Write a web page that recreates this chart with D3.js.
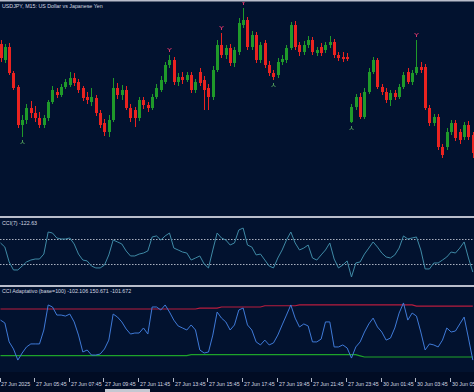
<!DOCTYPE html>
<html>
<head>
<meta charset="UTF-8">
<title>USDJPY M15</title>
<script src="https://cdnjs.cloudflare.com/ajax/libs/d3/7.8.5/d3.min.js"></script>
<style>
  html, body { margin: 0; padding: 0; background: #02122f; }
  svg { display: block; }
  text { font-family: "Liberation Sans", Arial, sans-serif; font-size: 5.3px; fill: #d4d8e2; }
</style>
</head>
<body>
<script>
// USDJPY M15 bars, 27 Jun 03:45 .. 30 Jun 07:00
var openP = [
  144.780,144.700,144.765,144.635,144.565,144.375,144.400,144.460,144.435,144.410,
  144.375,144.410,144.490,144.540,144.525,144.565,144.575,144.610,144.590,144.560,
  144.515,144.490,144.510,144.435,144.385,144.340,144.400,144.560,144.525,144.550,
  144.460,144.450,144.410,144.500,144.475,144.460,144.515,144.550,144.590,144.675,
  144.700,144.590,144.615,144.600,144.625,144.550,144.640,144.600,144.560,144.515,
  144.650,144.775,144.725,144.760,144.685,144.740,144.875,144.900,144.765,144.825,
  144.700,144.785,144.675,144.635,144.625,144.690,144.700,144.760,144.875,144.775,
  144.740,144.775,144.800,144.735,144.765,144.750,144.775,144.790,144.725,144.715,
  144.715,144.390,144.465,144.515,144.415,144.540,144.640,144.700,144.565,144.540,
  144.500,144.535,144.515,144.565,144.640,144.590,144.635,144.665,144.665,144.460,
  144.385,144.415,144.265,144.265,144.340,144.385,144.340,144.315,144.375,144.325];
var highP = [
  144.800,144.780,144.785,144.645,144.575,144.425,144.480,144.495,144.470,144.440,
  144.425,144.500,144.570,144.560,144.580,144.605,144.640,144.635,144.605,144.570,
  144.540,144.560,144.525,144.450,144.405,144.425,144.610,144.585,144.575,144.570,
  144.480,144.465,144.515,144.515,144.490,144.530,144.580,144.620,144.690,144.725,
  144.715,144.635,144.640,144.640,144.640,144.605,144.660,144.620,144.580,144.670,
  144.800,144.835,144.775,144.780,144.765,144.910,144.960,144.915,144.845,144.840,
  144.790,144.800,144.695,144.650,144.710,144.725,144.775,144.890,144.895,144.790,
  144.795,144.820,144.815,144.765,144.785,144.790,144.820,144.805,144.740,144.740,
  144.735,144.480,144.530,144.535,144.560,144.660,144.715,144.710,144.580,144.560,
  144.550,144.550,144.580,144.640,144.660,144.650,144.800,144.690,144.680,144.475,
  144.430,144.430,144.280,144.360,144.400,144.400,144.355,144.390,144.395,144.340];
var lowP = [
  144.690,144.685,144.625,144.550,144.360,144.315,144.380,144.410,144.390,144.360,
  144.360,144.395,144.480,144.510,144.515,144.555,144.565,144.570,144.535,144.495,
  144.480,144.470,144.420,144.360,144.320,144.315,144.390,144.505,144.500,144.450,
  144.390,144.365,144.395,144.455,144.440,144.450,144.505,144.540,144.580,144.660,
  144.575,144.570,144.580,144.590,144.535,144.535,144.570,144.450,144.450,144.500,
  144.640,144.710,144.705,144.670,144.665,144.725,144.860,144.750,144.750,144.685,
  144.685,144.660,144.620,144.600,144.610,144.675,144.685,144.750,144.750,144.720,
  144.725,144.760,144.725,144.720,144.720,144.735,144.760,144.710,144.695,144.690,
  144.695,144.385,144.450,144.405,144.405,144.530,144.630,144.555,144.525,144.485,
  144.470,144.500,144.505,144.555,144.580,144.575,144.625,144.635,144.450,144.370,
  144.370,144.250,144.210,144.250,144.325,144.295,144.280,144.300,144.300,144.210];
var closeP = [
  144.710,144.765,144.635,144.560,144.375,144.400,144.460,144.435,144.410,144.375,
  144.410,144.490,144.550,144.525,144.565,144.590,144.610,144.585,144.550,144.510,
  144.500,144.515,144.435,144.375,144.340,144.400,144.560,144.525,144.550,144.460,
  144.410,144.410,144.500,144.475,144.460,144.515,144.560,144.600,144.675,144.700,
  144.590,144.615,144.600,144.625,144.550,144.590,144.585,144.550,144.515,144.650,
  144.775,144.725,144.760,144.685,144.750,144.885,144.900,144.765,144.825,144.700,
  144.775,144.675,144.635,144.615,144.690,144.705,144.760,144.875,144.765,144.740,
  144.775,144.800,144.740,144.750,144.735,144.775,144.790,144.725,144.710,144.705,
  144.705,144.465,144.515,144.415,144.540,144.640,144.700,144.565,144.540,144.500,
  144.535,144.515,144.565,144.625,144.590,144.635,144.665,144.650,144.460,144.385,
  144.415,144.265,144.225,144.340,144.385,144.310,144.300,144.375,144.315,144.235];

var upFractals = [39, 51, 56, 96];
var downFractals = [5, 63, 81];

var cciValues = [
  65,33,-84,-147,-147,-116,-84,-69,-61,-61,
  -22,151,143,104,96,96,104,57,-22,-69,
  -76,-116,-131,-131,-108,-29,88,73,57,2,
  -37,-37,-22,-14,2,112,120,88,120,143,
  25,10,-6,-14,-69,-53,-37,-100,-131,10,
  143,104,88,49,65,167,182,49,33,-29,
  -22,-69,-116,-131,-53,10,88,151,65,10,
  25,49,-53,-69,-29,10,65,-61,-131,-108,
  -76,-202,-92,-84,-22,25,73,33,-14,-45,
  -53,-29,25,120,96,104,112,10,-139,-139,
  -92,-92,-69,-45,-6,-14,25,73,-53,-163];
var cciLevels = [100, -100];

var adaptiveValues = [
  81,67,-27,-62,-117,-82,-52,-37,-37,-37,
  32,156,146,106,106,101,111,72,7,-77,
  -67,-92,-92,-87,-62,-18,111,96,72,37,
  12,17,17,42,12,146,146,131,156,121,
  81,52,42,32,57,32,-67,-82,-77,7,
  121,91,72,32,57,131,141,57,32,-27,
  -42,-18,-42,-32,7,57,106,156,91,47,
  62,52,-27,-27,-13,72,72,-52,-52,-42,
  -57,-107,-52,-27,22,62,91,47,22,-18,
  -8,42,116,166,81,116,101,22,-67,-37,
  -42,-52,-18,42,22,27,62,96,-8,-117];
var upperBand = [
  136,136,136,136,136,136,136,136,136,136,
  136,136,136,136,136,136,136,136,136,136,
  136,136,136,136,136,136,136,136,136,136,
  136,136,136,136,136,136,136,136,136,136,
  136,136,136,136,136,136,140,140,140,140,
  140,146,146,146,146,146,146,146,146,146,
  146,152,152,152,152,152,152,152,152,156,
  156,156,156,156,156,156,156,156,156,156,
  156,156,156,156,156,156,156,156,156,156,
  156,156,156,156,156,156,150.671,150.671,150.671,150.671,
  150.671,150.671,150.671,150.671,150.671,150.671,150.671,150.671,150.671,150.671];
var lowerBand = [
  -95,-95,-95,-95,-95,-95,-95,-95,-95,-95,
  -95,-95,-95,-95,-95,-95,-95,-95,-95,-95,
  -95,-95,-95,-95,-95,-95,-95,-95,-95,-95,
  -95,-95,-95,-95,-95,-95,-95,-95,-95,-95,
  -95,-95,-95,-95,-90,-90,-90,-90,-90,-90,
  -90,-90,-90,-90,-90,-90,-90,-90,-90,-90,
  -90,-90,-90,-90,-90,-90,-90,-90,-90,-90,
  -90,-90,-90,-90,-90,-90,-90,-90,-90,-90,
  -90,-90,-90,-96,-101.672,-101.672,-101.672,-101.672,-101.672,-101.672,
  -101.672,-101.672,-101.672,-101.672,-101.672,-101.672,-101.672,-101.672,-101.672,-101.672,
  -101.672,-101.672,-101.672,-101.672,-101.672,-101.672,-101.672,-101.672,-101.672,-101.672];

var tickBars = [0, 8, 16, 24, 32, 40, 48, 56, 64, 72, 80, 88, 96, 104];
var tickLabels = ["27 Jun 2025", "27 Jun 05:45", "27 Jun 07:45", "27 Jun 09:45", "27 Jun 11:45",
  "27 Jun 13:45", "27 Jun 15:45", "27 Jun 17:45", "27 Jun 19:45", "27 Jun 21:45",
  "27 Jun 23:45", "30 Jun 01:45", "30 Jun 03:45", "30 Jun 05:45"];

var titleText = "USDJPY, M15:  US Dollar vs Japanese Yen";
var cciText = "CCI(7) -122.63";
var adaptiveText = "CCI Adaptativo (base=100) -102.106 150.671 -101.672";

var width = 474, height = 392;
var bg = "#02122f", sepColor = "#b9bdcb";
var bull = "#1f9a2a", bear = "#ea2320";

var bars = d3.range(openP.length);

var x = d3.scaleLinear().domain([0, 109]).range([0.5, 472.8]);
var yPrice = d3.scaleLinear().domain([143.92, 145.0]).range([216, 0]);
var yCci = d3.scaleLinear().domain([-257, 253]).range([284, 219]);
var yAd = d3.scaleLinear().domain([-176, 240]).range([372, 288]);

var svg = d3.select("body").append("svg")
  .attr("width", width)
  .attr("height", height);

svg.append("rect").attr("width", width).attr("height", height).attr("fill", bg);

// panel clips
var defs = svg.append("defs");
[["clipMain", 2, 214], ["clipCci", 219, 284], ["clipAd", 288, 372]].forEach(function(c) {
  defs.append("clipPath").attr("id", c[0])
    .append("rect").attr("x", 0).attr("y", c[1]).attr("width", width).attr("height", c[2] - c[1]);
});

// separators
svg.append("rect").attr("x", 0).attr("y", 0).attr("width", width).attr("height", 1.5).attr("fill", sepColor);
svg.append("rect").attr("x", 0).attr("y", 216).attr("width", width).attr("height", 2).attr("fill", sepColor);
svg.append("rect").attr("x", 0).attr("y", 285).attr("width", width).attr("height", 2).attr("fill", sepColor);

// candles
var main = svg.append("g").attr("clip-path", "url(#clipMain)");
var candle = main.selectAll("g.candle")
  .data(bars)
  .enter()
  .append("g")
  .attr("class", "candle");

candle.append("line")
  .attr("x1", function(i) { return Math.round(x(i)) + 0.5; })
  .attr("x2", function(i) { return Math.round(x(i)) + 0.5; })
  .attr("y1", function(i) { return yPrice(highP[i]); })
  .attr("y2", function(i) { return yPrice(lowP[i]); })
  .attr("stroke", function(i) { return closeP[i] >= openP[i] ? bull : bear; })
  .attr("stroke-width", 1);

candle.append("rect")
  .attr("x", function(i) { return Math.round(x(i)) - 1; })
  .attr("width", 3)
  .attr("y", function(i) { return yPrice(Math.max(openP[i], closeP[i])); })
  .attr("height", function(i) { return Math.max(1, Math.abs(yPrice(openP[i]) - yPrice(closeP[i]))); })
  .attr("fill", function(i) { return closeP[i] >= openP[i] ? bull : bear; });

// fractals
main.selectAll("path.fup")
  .data(upFractals)
  .enter()
  .append("path")
  .attr("class", "fup")
  .attr("transform", function(i) { return "translate(" + (Math.round(x(i)) + 0.5) + "," + (yPrice(highP[i]) - 5) + ")"; })
  .attr("d", "M-2,-2L0,0L2,-2M0,0L0,2")
  .attr("fill", "none")
  .attr("stroke", "#d8356a")
  .attr("stroke-width", 1);

main.selectAll("path.fdn")
  .data(downFractals)
  .enter()
  .append("path")
  .attr("class", "fdn")
  .attr("transform", function(i) { return "translate(" + (Math.round(x(i)) + 0.5) + "," + (yPrice(lowP[i]) + 5) + ")"; })
  .attr("d", "M-2,2L0,0L2,2M0,0L0,-2")
  .attr("fill", "none")
  .attr("stroke", "#4f9a5a")
  .attr("stroke-width", 1);

svg.append("text").attr("x", 2).attr("y", 8).text(titleText);

// CCI panel
var cciG = svg.append("g").attr("clip-path", "url(#clipCci)");
cciG.selectAll("line.level")
  .data(cciLevels)
  .enter()
  .append("line")
  .attr("class", "level")
  .attr("x1", 0).attr("x2", width)
  .attr("y1", function(d) { return Math.round(yCci(d)) + 0.5; })
  .attr("y2", function(d) { return Math.round(yCci(d)) + 0.5; })
  .attr("stroke", "#a9b0c0")
  .attr("stroke-width", 1)
  .attr("stroke-dasharray", "1.5,1.5");

cciG.append("path")
  .datum(bars)
  .attr("fill", "none")
  .attr("stroke", "#3f8aa6")
  .attr("stroke-width", 1)
  .attr("d", d3.line().x(function(i) { return x(i); }).y(function(i) { return yCci(cciValues[i]); }));

svg.append("text").attr("x", 2).attr("y", 225).text(cciText);

// adaptive CCI panel
var adG = svg.append("g").attr("clip-path", "url(#clipAd)");
adG.append("path")
  .datum(bars)
  .attr("fill", "none")
  .attr("stroke", "#b81d3f")
  .attr("stroke-width", 1.2)
  .attr("d", d3.line().x(function(i) { return x(i); }).y(function(i) { return yAd(upperBand[i]); }));

adG.append("path")
  .datum(bars)
  .attr("fill", "none")
  .attr("stroke", "#1ea32a")
  .attr("stroke-width", 1.2)
  .attr("d", d3.line().x(function(i) { return x(i); }).y(function(i) { return yAd(lowerBand[i]); }));

adG.append("path")
  .datum(bars)
  .attr("fill", "none")
  .attr("stroke", "#3f7ad8")
  .attr("stroke-width", 1)
  .attr("d", d3.line().x(function(i) { return x(i); }).y(function(i) { return yAd(adaptiveValues[i]); }));

svg.append("text").attr("x", 2).attr("y", 293).text(adaptiveText);

// time scale
var axisG = svg.append("g");
axisG.append("rect").attr("x", 0).attr("y", 372).attr("width", width).attr("height", 20).attr("fill", "#010c24");
axisG.selectAll("line.tick")
  .data(tickBars)
  .enter()
  .append("line")
  .attr("class", "tick")
  .attr("x1", function(i) { return Math.round(x(i)) - 0.5; })
  .attr("x2", function(i) { return Math.round(x(i)) - 0.5; })
  .attr("y1", 378).attr("y2", 382)
  .attr("stroke", "#b0b6c4");
axisG.selectAll("text.tl")
  .data(tickBars)
  .enter()
  .append("text")
  .attr("class", "tl")
  .attr("x", function(i, k) { return k === 0 ? 1 : Math.round(x(i)) + 1; })
  .attr("y", 385.5)
  .text(function(i, k) { return tickLabels[k]; });

// scrollbar
axisG.append("rect").attr("x", 105).attr("y", 389).attr("width", 45).attr("height", 3).attr("fill", "#c4c8d2");
</script>
</body>
</html>
